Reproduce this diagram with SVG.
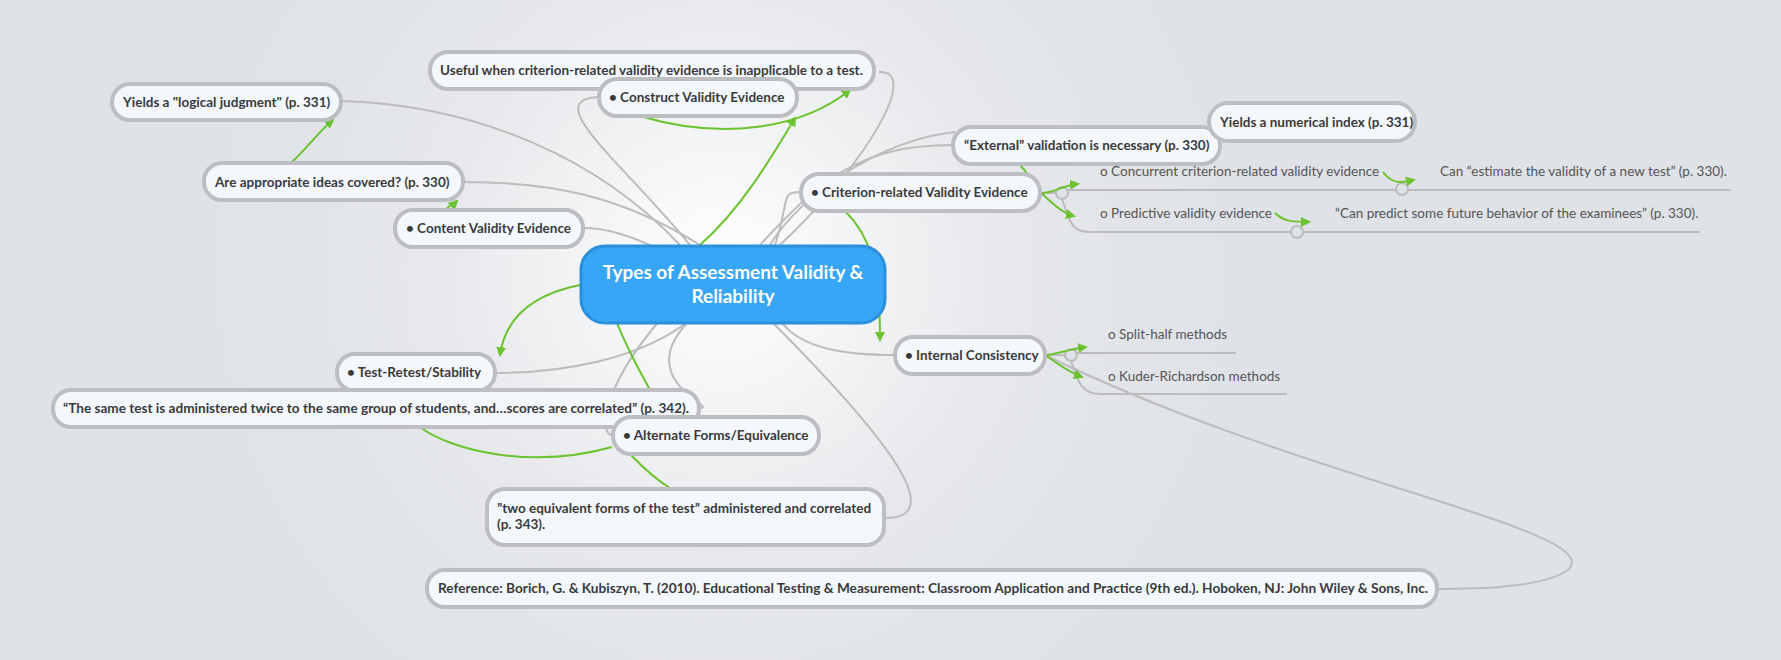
<svg xmlns="http://www.w3.org/2000/svg" width="1781" height="660" viewBox="0 0 1781 660">
<defs>
<radialGradient id="bg" cx="720" cy="270" r="520" gradientUnits="userSpaceOnUse">
<stop offset="0" stop-color="#ffffff"/><stop offset="0.55" stop-color="#e6e8eb"/><stop offset="1" stop-color="#dfe2e6"/>
</radialGradient>
<marker id="ga" viewBox="0 0 10 10" refX="8" refY="5" markerWidth="5" markerHeight="5" orient="auto"><path d="M0,0 L10,5 L0,10 z" fill="#6cc22f"/></marker>
<style>
.n{fill:#f4f8fd;stroke:#bdbec1;stroke-width:4}
.t{font-family:Lato,"Liberation Sans",sans-serif;font-weight:bold;font-size:13.5px;fill:#3a3a3a}
.p{font-family:Lato,"Liberation Sans",sans-serif;font-size:13.5px;fill:#555}
.g{fill:none;stroke:#bcbcbc;stroke-width:2}
.gr{fill:none;stroke:#6cc22f;stroke-width:2;marker-end:url(#ga)}
.gn{fill:none;stroke:#6cc22f;stroke-width:2}
.c{fill:#dfe2e6;stroke:#bcbcbc;stroke-width:2}
</style>
</defs>
<rect width="1781" height="660" fill="url(#bg)"/>
<g id="connectors">
<path class="g" d="M680,245 C600,160 480,105 341,101"/>
<path class="g" d="M700,245 C620,195 550,182 463,182"/>
<path class="g" d="M660,250 C640,240 610,228 584,228"/>
<path class="g" d="M690,245 C620,160 540,100 598,97"/>
<path class="g" d="M780,245 C870,160 920,70 879,72"/>
<path class="g" d="M760,245 C820,180 860,145 952,145"/>
<path class="g" d="M775,245 C790,200 780,192 800,192"/>
<path class="g" d="M770,245 C800,195 880,140 955,132"/>
<path class="g" d="M1045,355 C1300,480 1610,530 1568,570 C1540,590 1460,589 1437,589"/>
<path class="g" d="M780,320 C800,350 850,355 894,355"/>
<path class="g" d="M690,320 C640,360 560,373 495,373"/>
<path class="g" d="M690,320 C630,380 720,408 700,408"/>
<path class="g" d="M660,320 C600,390 600,435 612,435"/>
<path class="g" d="M770,320 C910,460 940,518 885,518"/>
<path class="gr" d="M700,245 C740,210 770,160 795,118"/>
<path class="gr" d="M640,116 C720,140 800,130 850,90"/>
<path class="gr" d="M445,210 C450,205 455,203 457,201"/>
<path class="gr" d="M292,162 C310,145 320,130 333,120"/>
<path class="gr" d="M580,285 C530,295 505,320 500,355"/>
<path class="gn" d="M605,290 C620,340 650,390 665,416"/>
<path class="gn" d="M612,447 C530,470 450,450 420,427"/>
<path class="gn" d="M630,454 C650,475 665,485 670,488"/>
<path class="gn" d="M1020,165 C1025,170 1028,175 1028,175"/>
<path class="gr" d="M845,211 C875,240 880,280 880,340"/>
<path class="g" d="M1041,193 L1062,193"/>
<circle class="c" cx="1062" cy="193" r="6"/>
<path class="g" d="M1068,190 L1731,190"/>
<path class="g" d="M1062,199 C1070,220 1070,232 1090,232 L1700,232"/>
<path class="gr" d="M1041,193 C1055,193 1060,186 1078,184"/>
<path class="gr" d="M1041,193 C1055,205 1062,213 1074,216"/>
<circle class="c" cx="1402" cy="189" r="6"/>
<path class="gr" d="M1383,172 C1392,184 1400,183 1414,180"/>
<circle class="c" cx="1297" cy="232" r="6"/>
<path class="gr" d="M1275,213 C1284,222 1295,222 1309,222"/>
<path class="g" d="M1045,355 L1071,355"/>
<circle class="c" cx="1071" cy="355" r="6"/>
<path class="g" d="M1077,353 L1236,353"/>
<path class="g" d="M1071,361 C1078,380 1080,394 1100,394 L1287,394"/>
<path class="gr" d="M1045,355 C1055,355 1065,350 1086,347"/>
<path class="gr" d="M1045,355 C1060,365 1068,372 1082,377"/>
</g>
<g id="n-central"><rect x="581" y="246" width="304" height="77" rx="24" fill="#37a6f7" stroke="#2b8fdc" stroke-width="3"/>
<text x="733" y="279" text-anchor="middle" font-family="Lato,'Liberation Sans',sans-serif" font-weight="bold" font-size="19" fill="#fff">Types of Assessment Validity &amp;</text>
<text x="733" y="303" text-anchor="middle" font-family="Lato,'Liberation Sans',sans-serif" font-weight="bold" font-size="19" fill="#fff">Reliability</text></g>
<g id="n-logical"><rect class="n" x="112" y="84" width="229" height="36" rx="18"/><text class="t" x="123" y="107">Yields a "logical judgment" (p. 331)</text></g>
<g id="n-ideas"><rect class="n" x="204" y="163" width="259" height="37" rx="18"/><text class="t" x="215" y="187">Are appropriate ideas covered? (p. 330)</text></g>
<g id="n-useful"><rect class="n" x="430" y="52" width="444" height="37" rx="18"/><text class="t" x="440" y="75">Useful when criterion-related validity evidence is inapplicable to a test.</text></g>
<g id="n-content"><rect class="n" x="395" y="210" width="188" height="37" rx="18"/><text class="t" x="406" y="233">• Content Validity Evidence</text></g>
<g id="n-construct"><rect class="n" x="599" y="79" width="198" height="37" rx="18"/><text class="t" x="609" y="102">• Construct Validity Evidence</text></g>
<g id="n-external"><rect class="n" x="953" y="127" width="267" height="37" rx="18"/><text class="t" x="964" y="150">“External” validation is necessary (p. 330)</text></g>
<g id="n-numerical"><rect class="n" x="1209" y="103" width="206" height="38" rx="19"/><text class="t" x="1220" y="127">Yields a numerical index (p. 331)</text></g>
<g id="n-criterion"><rect class="n" x="801" y="174" width="239" height="37" rx="18"/><text class="t" x="811" y="197">• Criterion-related Validity Evidence</text></g>
<g id="n-internal"><rect class="n" x="895" y="337" width="150" height="37" rx="18"/><text class="t" x="905" y="360">• Internal Consistency</text></g>
<g id="n-retest"><rect class="n" x="337" y="354" width="158" height="37" rx="18"/><text class="t" x="347" y="377">• Test-Retest/Stability</text></g>
<g id="n-sametest"><rect class="n" x="53" y="390" width="646" height="37" rx="18"/><text class="t" x="63" y="413" textLength="626" lengthAdjust="spacingAndGlyphs">“The same test is administered twice to the same group of students, and…scores are correlated” (p. 342).</text></g>
<g id="n-alternate"><rect class="n" x="613" y="417" width="206" height="37" rx="18"/><text class="t" x="623" y="440">• Alternate Forms/Equivalence</text></g>
<g id="n-twoforms"><rect class="n" x="487" y="489" width="397" height="56" rx="18"/><text class="t" x="497" y="513">”two equivalent forms of the test” administered and correlated</text><text class="t" x="497" y="529">(p. 343).</text></g>
<g id="n-reference"><rect class="n" x="427" y="570" width="1010" height="37" rx="18"/><text class="t" x="438" y="593" textLength="990" lengthAdjust="spacingAndGlyphs">Reference: Borich, G. &amp; Kubiszyn, T.  (2010).  Educational Testing &amp; Measurement: Classroom Application and Practice (9th ed.).  Hoboken, NJ: John Wiley &amp; Sons, Inc.</text></g>
<g id="n-concurrent"><text class="p" x="1100" y="176">o Concurrent criterion-related validity evidence</text></g>
<g id="n-estimate"><text class="p" x="1440" y="176">Can “estimate the validity of a new test” (p. 330).</text></g>
<g id="n-predictive"><text class="p" x="1100" y="218">o Predictive validity evidence</text></g>
<g id="n-predict"><text class="p" x="1335" y="218">“Can predict some future behavior of the examinees” (p. 330).</text></g>
<g id="n-split"><text class="p" x="1108" y="339">o Split-half methods</text></g>
<g id="n-kuder"><text class="p" x="1108" y="381">o Kuder-Richardson methods</text></g>
</svg>
